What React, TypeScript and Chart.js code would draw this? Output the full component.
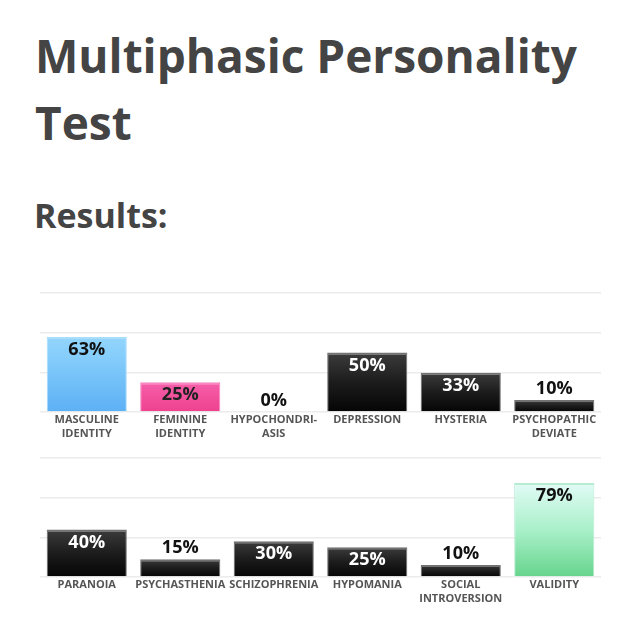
import { useEffect, useRef } from 'react'
import { Chart, registerables } from 'chart.js'

Chart.register(...registerables)

const topLabels = [
  ['MASCULINE', 'IDENTITY'],
  ['FEMININE', 'IDENTITY'],
  ['HYPOCHONDRI-', 'ASIS'],
  'DEPRESSION',
  'HYSTERIA',
  ['PSYCHOPATHIC', 'DEVIATE'],
]
const topValues = [63, 25, 0, 50, 33, 10]
const topKinds = ['blue', 'pink', 'dark', 'dark', 'dark', 'dark']

const bottomLabels = [
  'PARANOIA',
  'PSYCHASTHENIA',
  'SCHIZOPHRENIA',
  'HYPOMANIA',
  ['SOCIAL', 'INTROVERSION'],
  'VALIDITY',
]
const bottomValues = [40, 15, 30, 25, 10, 79]
const bottomKinds = ['dark', 'dark', 'dark', 'dark', 'dark', 'green']

const FONT = "'Open Sans', 'Noto Sans', sans-serif"

// gradient stops (top -> bottom), border colour, value label colour
const palette: Record<string, { stops: string[]; border: string; text: string }> = {
  blue: { stops: ['#93d6fc', '#78c4f9', '#5cb0f5'], border: '#a9ddfa', text: '#111' },
  pink: { stops: ['#f65fab', '#f2509c', '#ee418e'], border: '#f888c0', text: '#222' },
  green: { stops: ['#e2fbf6', '#a9f0c9', '#66d48c'], border: '#b6ecd2', text: '#111' },
  dark: { stops: ['#3c3c3c', '#1c1c1c', '#050505'], border: '#727272', text: '#fff' },
}

function ResultChart({ labels, values, kinds, top }: {
  labels: (string | string[])[]
  values: number[]
  kinds: string[]
  top: number
}) {
  const chartRef = useRef<HTMLCanvasElement>(null)
  const chartInstance = useRef<Chart | null>(null)

  useEffect(() => {
    if (!chartRef.current) return
    if (chartInstance.current) chartInstance.current.destroy()
    const ctx = chartRef.current.getContext('2d')
    if (!ctx) return

    const valueLabels = {
      id: 'valueLabels',
      afterDatasetsDraw(chart: any) {
        const c = chart.ctx
        const meta = chart.getDatasetMeta(0)
        c.save()
        c.font = `bold 18px ${FONT}`
        c.textAlign = 'center'
        c.textBaseline = 'middle'
        meta.data.forEach((bar: any, i: number) => {
          const h = bar.base - bar.y
          const inside = h >= 24
          c.fillStyle = inside ? palette[kinds[i]].text : '#111'
          c.fillText(`${values[i]}%`, bar.x, inside ? bar.y + 13 : bar.y - 11)
        })
        c.restore()
      },
    }

    chartInstance.current = new Chart(ctx, {
      type: 'bar',
      data: {
        labels,
        datasets: [
          {
            data: values,
            backgroundColor: (context: any) => {
              const chart = context.chart
              const p = palette[kinds[context.dataIndex]] || palette.dark
              const y = chart.scales && chart.scales.y
              if (!y) return p.stops[1]
              const t = y.getPixelForValue(values[context.dataIndex])
              const b = y.getPixelForValue(0)
              if (!isFinite(t) || !isFinite(b) || b - t < 1) return p.stops[1]
              const g = chart.ctx.createLinearGradient(0, t, 0, b)
              g.addColorStop(0, p.stops[0])
              g.addColorStop(0.5, p.stops[1])
              g.addColorStop(1, p.stops[2])
              return g
            },
            borderColor: kinds.map((k) => palette[k].border),
            borderWidth: { top: 2, left: 1, right: 1, bottom: 0 },
            borderSkipped: 'start',
            barPercentage: 0.857,
            categoryPercentage: 1,
          },
        ],
      },
      options: {
        responsive: false,
        animation: false,
        layout: { padding: { left: 40, right: 39, top: 8, bottom: 3 } },
        plugins: {
          legend: { display: false },
          tooltip: { enabled: false },
        },
        scales: {
          x: {
            grid: { display: false, drawTicks: false },
            border: { display: false },
            ticks: {
              autoSkip: false,
              maxRotation: 0,
              minRotation: 0,
              padding: 1,
              color: '#555',
              font: { family: FONT, size: 11, weight: 'bold', lineHeight: '14px' },
            },
          },
          y: {
            min: 0,
            max: 100,
            border: { display: false },
            grid: { color: '#ececec', lineWidth: 1.5, drawTicks: false },
            ticks: { display: false, count: 4 },
          },
        },
      },
      plugins: [valueLabels],
    } as any)

    return () => {
      if (chartInstance.current) {
        chartInstance.current.destroy()
        chartInstance.current = null
      }
    }
  }, [])

  return (
    <canvas
      ref={chartRef}
      width={640}
      height={160}
      style={{ position: 'absolute', left: 0, top, width: 640, height: 160 }}
    />
  )
}

export default function App() {
  return (
    <div style={{ position: 'absolute', left: 0, top: 0, width: 640, height: 628, background: '#fff', overflow: 'hidden' }}>
      <div
        style={{
          position: 'absolute',
          left: 35,
          top: 22,
          width: 590,
          fontFamily: FONT,
          fontWeight: 700,
          fontSize: 46,
          lineHeight: '67px',
          color: '#444',
        }}
      >
        Multiphasic Personality Test
      </div>
      <div
        style={{
          position: 'absolute',
          left: 34,
          top: 192,
          fontFamily: FONT,
          fontWeight: 700,
          fontSize: 34,
          color: '#444',
        }}
      >
        Results:
      </div>
      <ResultChart labels={topLabels} values={topValues} kinds={topKinds} top={285} />
      <ResultChart labels={bottomLabels} values={bottomValues} kinds={bottomKinds} top={450} />
    </div>
  )
}
